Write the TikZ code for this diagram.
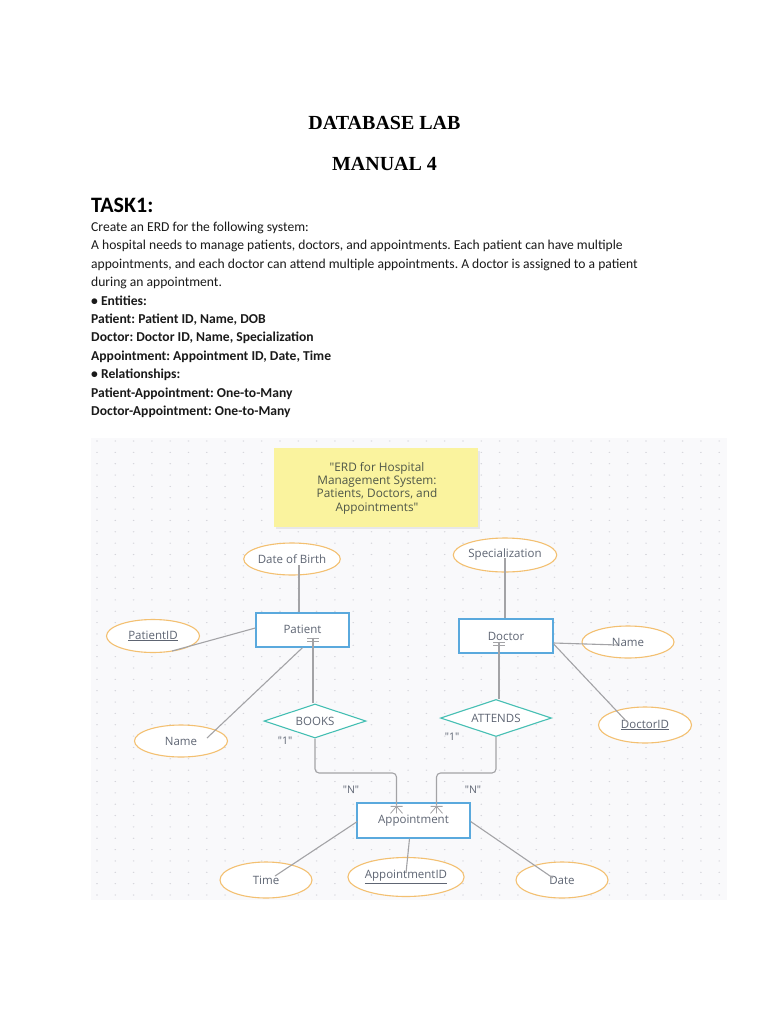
\documentclass[tikz,border=0pt]{standalone}
\usepackage{fontspec}
\setmainfont{Carlito}
\newfontfamily\titlef{Liberation Serif}
\newfontfamily\diagf{Open Sans}
\usetikzlibrary{shapes.geometric,calc}
\definecolor{attr}{HTML}{F3C071}
\definecolor{ent}{HTML}{5AA9DD}
\definecolor{rel}{HTML}{45BFB3}
\definecolor{connc}{HTML}{A3A3A6}
\definecolor{dtext}{HTML}{5E6573}
\definecolor{notec}{HTML}{FAF39E}
\definecolor{notetext}{HTML}{4E5648}
\definecolor{panelc}{HTML}{F9F9FB}
\definecolor{dotc}{HTML}{D4D4DA}
\definecolor{bodytext}{HTML}{1A1A1A}
\frenchspacing
\begin{document}
\begin{tikzpicture}[x=1pt,y=-1pt,
  attrib/.style={ellipse,draw=attr,line width=1.1pt,fill=white,inner sep=0pt,
    font=\diagf\fontsize{11.5}{13}\selectfont,text=dtext},
  entity/.style={rectangle,draw=ent,line width=1.3pt,fill=white,inner sep=0pt,
    font=\diagf\fontsize{11.5}{13}\selectfont,text=dtext},
  relation/.style={diamond,aspect=3,draw=rel,line width=1.1pt,fill=white,inner sep=0pt,
    font=\diagf\fontsize{11.5}{13}\selectfont,text=dtext},
  conn/.style={draw=connc,line width=1.1pt},
  markline/.style={draw=connc,line width=0.8pt},
  card/.style={font=\diagf\fontsize{10.5}{12}\selectfont,text=dtext,inner sep=0pt},
  body/.style={anchor=base west,inner sep=0pt,text=bodytext,font=\fontsize{13.6}{16}\selectfont},
  bodyb/.style={body,font=\bfseries\fontsize{13.6}{16}\selectfont},
  titlestyle/.style={anchor=base,inner sep=0pt,font=\titlef\bfseries\fontsize{20}{23}\selectfont}]
\useasboundingbox (0,0) rectangle (768,1024);
\fill[white] (0,0) rectangle (768,1024);

% header text
\node[titlestyle] (t1) at (384.5,130) {DATABASE LAB};
\node[titlestyle] (t2) at (384.5,171) {MANUAL 4};
\node[anchor=base west,inner sep=0pt,font=\bfseries\fontsize{22}{26}\selectfont] (task) at (91,213) {TASK1:};
\node[body] (l1) at (91,231.5) {Create an ERD for the following system:};
\node[body] (l2) at (91,249.9) {A hospital needs to manage patients, doctors, and appointments. Each patient can have multiple};
\node[body] (l3) at (91,268.3) {appointments, and each doctor can attend multiple appointments. A doctor is assigned to a patient};
\node[body] (l4) at (91,286.7) {during an appointment.};
\node[bodyb] (l5) at (91,305.1) {• Entities:};
\node[bodyb] (l6) at (91,323.5) {Patient: Patient ID, Name, DOB};
\node[bodyb] (l7) at (91,341.9) {Doctor: Doctor ID, Name, Specialization};
\node[bodyb] (l8) at (91,360.3) {Appointment: Appointment ID, Date, Time};
\node[bodyb] (l9) at (91,378.7) {• Relationships:};
\node[bodyb] (l10) at (91,397.1) {Patient-Appointment: One-to-Many};
\node[bodyb] (l11) at (91,415.5) {Doctor-Appointment: One-to-Many};

% diagram panel
\fill[panelc] (91,438) rectangle (727,900);
\foreach \i in {0,...,34} \foreach \j in {0,...,40}
  \fill[dotc] (97+18.3*\i,441+11.35*\j) ellipse (0.9 and 0.6);

% sticky note
\fill[black,opacity=0.07] (276,451) rectangle (480,529);
\node[rectangle,fill=notec,minimum width=204pt,minimum height=79pt,inner sep=0pt] (note) at (376,487.5) {};
\node[align=center,font=\diagf\fontsize{11.8}{13.3}\selectfont,text=notetext,inner sep=0pt] (notetxt) at (377,488)
  {"ERD for Hospital\\Management System:\\Patients, Doctors, and\\Appointments"};

% nodes
\node[attrib,minimum width=92pt,minimum height=32pt] (dob) at (292,559) {Date of Birth};
\node[attrib,minimum width=94pt,minimum height=34pt] (spec) at (505,555) {\raisebox{2pt}{Specialization}};
\node[entity,minimum width=93pt,minimum height=34pt] (pat) at (302.5,630) {\raisebox{1pt}{Patient}};
\node[entity,minimum width=94pt,minimum height=34pt] (doc) at (506,636) {Doctor};
\node[attrib,minimum width=93pt,minimum height=33pt] (pid) at (153,636) {\underline{PatientID}};
\node[attrib,minimum width=93pt,minimum height=32pt] (pname) at (181,741) {Name};
\node[attrib,minimum width=92pt,minimum height=32pt] (dname) at (628,642) {Name};
\node[attrib,minimum width=93pt,minimum height=36pt] (did) at (645,725) {\underline{DoctorID}};
\node[relation,minimum width=102pt,minimum height=34pt] (books) at (315,721) {BOOKS};
\node[relation,minimum width=111pt,minimum height=37pt] (att) at (496,718) {ATTENDS};
\node[entity,minimum width=113pt,minimum height=35pt] (appt) at (413.5,820.5) {Appointment};
\node[attrib,minimum width=92pt,minimum height=36pt] (time) at (266,880) {Time};
\node[attrib,minimum width=113pt,minimum height=39pt] (apid) at (406,877) {\underline{AppointmentID}};
\node[attrib,minimum width=92pt,minimum height=36pt] (date) at (562,880) {Date};

% cardinality labels
\node[card] (one1) at (285,741) {"1"};
\node[card] (one2) at (452,737) {"1"};
\node[card] (n1) at (351,790) {"N"};
\node[card] (n2) at (473,790) {"N"};

% attribute connectors
\coordinate (c1) at ($(dob.center)+(7,6)$);
\draw[conn] (c1) -- (c1 |- pat.north);
\coordinate (c2) at ($(spec.center)+(0,3)$);
\draw[conn] (c2) -- (c2 |- doc.north);
\draw[conn] ($(pid.center)+(19,15)$) -- ($(pat.west)+(0,-2)$);
\draw[conn] (pat.south) -- ($(pname.center)+(26,-3)$);
\draw[conn] ($(doc.east)+(0,7)$) -- ($(dname.center)+(-10,3)$);
\draw[conn] ($(doc.east)+(0,8)$) -- ($(did.center)+(-17,-2)$);
\draw[conn] ($(appt.west)+(1,1)$) -- ($(time.center)+(9,-4)$);
\draw[conn] ($(appt.south)+(-4,0)$) -- ($(apid.center)+(0,-4)$);
\draw[conn] ($(appt.east)+(0,1)$) -- ($(date.center)+(-9,-2)$);

% relationship connectors
\coordinate (c4) at ($(pat.south)+(10.5,-10)$);
\draw[conn] (c4) -- (c4 |- books.north);
\draw[markline] ($(c4)+(-6,1)$) -- ($(c4)+(6,1)$) ($(c4)+(-6,4)$) -- ($(c4)+(6,4)$);
\coordinate (c5) at ($(doc.south)+(-7,-12)$);
\draw[conn] (c5) -- (c5 |- att.north);
\draw[markline] ($(c5)+(-6,1)$) -- ($(c5)+(6,1)$) ($(c5)+(-6,4)$) -- ($(c5)+(6,4)$);

\coordinate (busy) at (0,773);
\coordinate (c6) at ($(appt.north)+(-17,3)$);
\coordinate (c7) at ($(appt.north)+(23,3)$);
\draw[conn,rounded corners=4pt] (books.south) -- (books.south |- busy) -- (c6 |- busy) -- (c6);
\draw[conn,rounded corners=4pt] (att.south) -- (att.south |- busy) -- (c7 |- busy) -- (c7);
\foreach \c in {c6,c7}{
  \draw[markline] ($(\c)+(-6,1)$) -- ($(\c)+(6,1)$)
    ($(\c)+(-6,8)$) -- ($(\c)+(0,1)$) -- ($(\c)+(6,8)$)
    (\c) -- ($(\c)+(0,8)$);
}
\end{tikzpicture}
\end{document}
